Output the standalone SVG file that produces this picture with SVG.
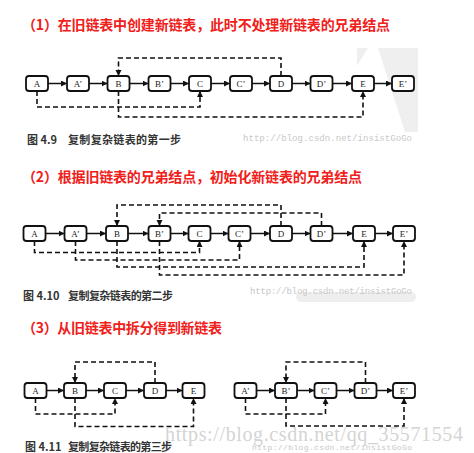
<svg xmlns="http://www.w3.org/2000/svg" width="474" height="453" viewBox="0 0 474 453">
<defs>
<marker id="ah" markerUnits="userSpaceOnUse" markerWidth="7" markerHeight="7" refX="6" refY="3" orient="auto">
<path d="M0,0 L6,3 L0,6 z" fill="#111"/>
</marker>
<style>
.title{font-family:"Noto Sans CJK SC","Noto Sans",sans-serif;font-weight:bold;font-size:14px;fill:#f0201a}
.cap{font-family:"Noto Sans CJK SC","Noto Sans",sans-serif;font-weight:bold;font-size:11px;fill:#333}
.box{fill:#fff;stroke:#111;stroke-width:1.8}
.lbl{font-family:"Liberation Serif",serif;font-size:9px;fill:#222;text-anchor:middle}
.solid{fill:none;stroke:#111;stroke-width:1.5}
.dash{fill:none;stroke:#111;stroke-width:1.6;stroke-dasharray:5 3}
.wm{font-family:"Liberation Mono",monospace;fill:#c8c8c8}
.wmbig{font-family:"Liberation Serif",serif;font-size:20px;fill:#d4d4d4}
</style>
</defs>
<rect width="474" height="453" fill="#fff"/>
<!-- background watermark shapes -->
<polygon points="357,48 368,48 357,66" fill="#efefef"/>
<polygon points="378,48 418,48 418,132 405,132" fill="#efefef"/>
<rect x="296" y="292" width="120" height="10" rx="5" fill="#eeeeee"/>
<text class="wm" x="243" y="141" font-size="9" textLength="169">http://blog.csdn.net/insistGoGo</text>
<text class="wm" x="250" y="294" font-size="9" textLength="162">http://blog.csdn.net/insistGoGo</text>

<!-- titles -->
<text class="title" x="22" y="30" textLength="368">（1）在旧链表中创建新链表，此时不处理新链表的兄弟结点</text>
<text class="title" x="22" y="182" textLength="340">（2）根据旧链表的兄弟结点，初始化新链表的兄弟结点</text>
<text class="title" x="22" y="333" textLength="200">（3）从旧链表中拆分得到新链表</text>

<!-- captions -->
<text class="cap" x="27" y="144">图 4.9</text>
<text class="cap" x="68" y="144" textLength="113">复制复杂链表的第一步</text>
<text class="cap" x="23" y="300">图 4.10</text>
<text class="cap" x="68" y="300" textLength="105">复制复杂链表的第二步</text>
<text class="cap" x="25" y="451">图 4.11</text>
<text class="cap" x="68" y="451" textLength="104">复制复杂链表的第三步</text>

<!-- connectors -->
<g id="connectors">
<!-- row 1 solid -->
<path class="solid" marker-end="url(#ah)" d="M48,83.5 H67"/>
<path class="solid" marker-end="url(#ah)" d="M89,83.5 H107.5"/>
<path class="solid" marker-end="url(#ah)" d="M129.5,83.5 H148.5"/>
<path class="solid" marker-end="url(#ah)" d="M170.5,83.5 H189"/>
<path class="solid" marker-end="url(#ah)" d="M211,83.5 H230"/>
<path class="solid" marker-end="url(#ah)" d="M252,83.5 H270"/>
<path class="solid" marker-end="url(#ah)" d="M292,83.5 H310.5"/>
<path class="solid" marker-end="url(#ah)" d="M332.5,83.5 H352"/>
<path class="solid" marker-end="url(#ah)" d="M374,83.5 H392"/>
<!-- row 1 dashed -->
<path class="dash" marker-end="url(#ah)" d="M281,76 V58 H118.5 V76"/>
<path class="dash" marker-end="url(#ah)" d="M37,91 V107 H200 V91"/>
<path class="dash" marker-end="url(#ah)" d="M118.5,91 V117 H363 V91"/>

<!-- row 2 solid -->
<path class="solid" marker-end="url(#ah)" d="M45.5,233.5 H64.5"/>
<path class="solid" marker-end="url(#ah)" d="M86.5,233.5 H106"/>
<path class="solid" marker-end="url(#ah)" d="M128,233.5 H148.5"/>
<path class="solid" marker-end="url(#ah)" d="M170.5,233.5 H188.5"/>
<path class="solid" marker-end="url(#ah)" d="M210.5,233.5 H228.5"/>
<path class="solid" marker-end="url(#ah)" d="M250.5,233.5 H270"/>
<path class="solid" marker-end="url(#ah)" d="M292,233.5 H310.5"/>
<path class="solid" marker-end="url(#ah)" d="M332.5,233.5 H353"/>
<path class="solid" marker-end="url(#ah)" d="M375,233.5 H393"/>
<!-- row 2 dashed -->
<path class="dash" marker-end="url(#ah)" d="M281,226 V205 H117 V226"/>
<path class="dash" marker-end="url(#ah)" d="M321.5,226 V213 H159.5 V226"/>
<path class="dash" marker-end="url(#ah)" d="M34.5,241 V252.5 H199.5 V241"/>
<path class="dash" marker-end="url(#ah)" d="M75.5,241 V260 H239.5 V241"/>
<path class="dash" marker-end="url(#ah)" d="M117,241 V267 H364 V241"/>
<path class="dash" marker-end="url(#ah)" d="M159.5,241 V275 H404 V241"/>

<!-- row 3 solid -->
<path class="solid" marker-end="url(#ah)" d="M46.5,390.5 H64"/>
<path class="solid" marker-end="url(#ah)" d="M86,390.5 H104"/>
<path class="solid" marker-end="url(#ah)" d="M126,390.5 H144"/>
<path class="solid" marker-end="url(#ah)" d="M166,390.5 H182.5"/>
<path class="solid" marker-end="url(#ah)" d="M256.5,390.5 H275"/>
<path class="solid" marker-end="url(#ah)" d="M297,390.5 H314.5"/>
<path class="solid" marker-end="url(#ah)" d="M336.5,390.5 H354.5"/>
<path class="solid" marker-end="url(#ah)" d="M376.5,390.5 H393"/>
<!-- row 3 dashed -->
<path class="dash" marker-end="url(#ah)" d="M155,383 V362 H75 V383"/>
<path class="dash" marker-end="url(#ah)" d="M35.5,398 V414 H115 V398"/>
<path class="dash" marker-end="url(#ah)" d="M75,398 V426.5 H193.5 V398"/>
<path class="dash" marker-end="url(#ah)" d="M365.5,383 V362 H286 V383"/>
<path class="dash" marker-end="url(#ah)" d="M245.5,398 V414 H325.5 V398"/>
<path class="dash" marker-end="url(#ah)" d="M286,398 V426 H404 V398"/>
</g>

<!-- row 1 nodes -->
<g id="r1-A"><rect class="box" x="26" y="76" width="22" height="15" rx="3"/><text class="lbl" x="37" y="87">A</text></g>
<g id="r1-A2"><rect class="box" x="67" y="76" width="22" height="15" rx="3"/><text class="lbl" x="78" y="87">A’</text></g>
<g id="r1-B"><rect class="box" x="107.5" y="76" width="22" height="15" rx="3"/><text class="lbl" x="118.5" y="87">B</text></g>
<g id="r1-B2"><rect class="box" x="148.5" y="76" width="22" height="15" rx="3"/><text class="lbl" x="159.5" y="87">B’</text></g>
<g id="r1-C"><rect class="box" x="189" y="76" width="22" height="15" rx="3"/><text class="lbl" x="200" y="87">C</text></g>
<g id="r1-C2"><rect class="box" x="230" y="76" width="22" height="15" rx="3"/><text class="lbl" x="241" y="87">C’</text></g>
<g id="r1-D"><rect class="box" x="270" y="76" width="22" height="15" rx="3"/><text class="lbl" x="281" y="87">D</text></g>
<g id="r1-D2"><rect class="box" x="310.5" y="76" width="22" height="15" rx="3"/><text class="lbl" x="321.5" y="87">D’</text></g>
<g id="r1-E"><rect class="box" x="352" y="76" width="22" height="15" rx="3"/><text class="lbl" x="363" y="87">E</text></g>
<g id="r1-E2"><rect class="box" x="392" y="76" width="22" height="15" rx="3"/><text class="lbl" x="403" y="87">E’</text></g>

<!-- row 2 nodes -->
<g id="r2-A"><rect class="box" x="23.5" y="226" width="22" height="15" rx="3"/><text class="lbl" x="34.5" y="237">A</text></g>
<g id="r2-A2"><rect class="box" x="64.5" y="226" width="22" height="15" rx="3"/><text class="lbl" x="75.5" y="237">A’</text></g>
<g id="r2-B"><rect class="box" x="106" y="226" width="22" height="15" rx="3"/><text class="lbl" x="117" y="237">B</text></g>
<g id="r2-B2"><rect class="box" x="148.5" y="226" width="22" height="15" rx="3"/><text class="lbl" x="159.5" y="237">B’</text></g>
<g id="r2-C"><rect class="box" x="188.5" y="226" width="22" height="15" rx="3"/><text class="lbl" x="199.5" y="237">C</text></g>
<g id="r2-C2"><rect class="box" x="228.5" y="226" width="22" height="15" rx="3"/><text class="lbl" x="239.5" y="237">C’</text></g>
<g id="r2-D"><rect class="box" x="270" y="226" width="22" height="15" rx="3"/><text class="lbl" x="281" y="237">D</text></g>
<g id="r2-D2"><rect class="box" x="310.5" y="226" width="22" height="15" rx="3"/><text class="lbl" x="321.5" y="237">D’</text></g>
<g id="r2-E"><rect class="box" x="353" y="226" width="22" height="15" rx="3"/><text class="lbl" x="364" y="237">E</text></g>
<g id="r2-E2"><rect class="box" x="393" y="226" width="22" height="15" rx="3"/><text class="lbl" x="404" y="237">E’</text></g>

<!-- row 3 nodes -->
<g id="r3-A"><rect class="box" x="24.5" y="383" width="22" height="15" rx="3"/><text class="lbl" x="35.5" y="394">A</text></g>
<g id="r3-B"><rect class="box" x="64" y="383" width="22" height="15" rx="3"/><text class="lbl" x="75" y="394">B</text></g>
<g id="r3-C"><rect class="box" x="104" y="383" width="22" height="15" rx="3"/><text class="lbl" x="115" y="394">C</text></g>
<g id="r3-D"><rect class="box" x="144" y="383" width="22" height="15" rx="3"/><text class="lbl" x="155" y="394">D</text></g>
<g id="r3-E"><rect class="box" x="182.5" y="383" width="22" height="15" rx="3"/><text class="lbl" x="193.5" y="394">E</text></g>
<g id="r3-A2"><rect class="box" x="234.5" y="383" width="22" height="15" rx="3"/><text class="lbl" x="245.5" y="394">A’</text></g>
<g id="r3-B2"><rect class="box" x="275" y="383" width="22" height="15" rx="3"/><text class="lbl" x="286" y="394">B’</text></g>
<g id="r3-C2"><rect class="box" x="314.5" y="383" width="22" height="15" rx="3"/><text class="lbl" x="325.5" y="394">C’</text></g>
<g id="r3-D2"><rect class="box" x="354.5" y="383" width="22" height="15" rx="3"/><text class="lbl" x="365.5" y="394">D’</text></g>
<g id="r3-E2"><rect class="box" x="393" y="383" width="22" height="15" rx="3"/><text class="lbl" x="404" y="394">E’</text></g>

<!-- bottom watermarks -->
<text class="wmbig" x="165" y="441" textLength="298">https://blog.csdn.net/qq_35571554</text>
<text class="wm" x="252" y="450" font-size="8" textLength="160">http://blog.csdn.net/insistGoGo</text>
</svg>
